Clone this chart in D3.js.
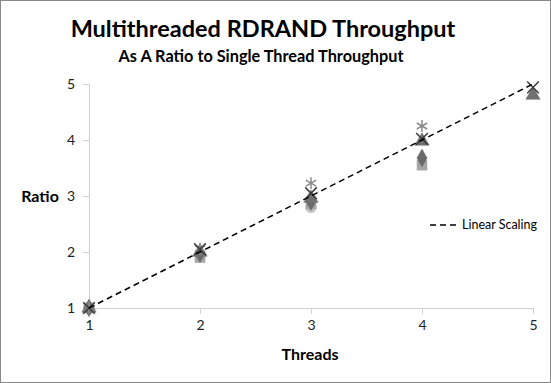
<!DOCTYPE html>
<html>
<head>
<meta charset="utf-8">
<script src="https://cdn.jsdelivr.net/npm/d3@7"></script>
<style>
  body { margin: 0; background: #fff; }
  text { font-family: Lato, "Open Sans", sans-serif; }
</style>
</head>
<body>
<div id="chart"></div>
<script>
// data
const threads = [1, 2, 3, 4, 5];
const crossVals = [1, 2.05, 3.05, 4.02, 4.94];
const starVals = [1, 2.06, 3.23, 4.25, null];
const triVals = [1, 2.0, 2.96, 3.98, 4.8];
const diamondVals = [1, 1.97, 2.9, 3.68, null];
const squareVals = [1, 1.9, 2.86, 3.55, null];
const circleVals = [1, 1.93, 2.8, null, null];
const linearVals = [1, 2, 3, 4, 5];
const yTicks = [1, 2, 3, 4, 5];

const series = [
  { name: "circle", vals: circleVals, color: "#c4c4c4", shape: "circle" },
  { name: "square", vals: squareVals, color: "#a6a6a6", shape: "square" },
  { name: "diamond", vals: diamondVals, color: "#6a6a6a", shape: "diamond" },
  { name: "triangle", vals: triVals, color: "#707070", shape: "triangle" },
  { name: "star", vals: starVals, color: "#8c8c8c", shape: "star" },
  { name: "cross", vals: crossVals, color: "#3a3a3a", shape: "cross" }
];

const width = 551, height = 383;
const svg = d3.select("#chart").append("svg")
  .attr("width", width)
  .attr("height", height);

svg.append("rect")
  .attr("x", 0.5).attr("y", 0.5)
  .attr("width", width - 1).attr("height", height - 1)
  .attr("fill", "#fff").attr("stroke", "#8a8a8a");

var x = d3.scaleLinear().domain([1, 5]).range([89, 533]);
var y = d3.scaleLinear().domain([1, 5]).range([308, 84]);

// title
svg.append("text")
  .attr("x", 263).attr("y", 37)
  .attr("text-anchor", "middle")
  .attr("font-size", 23.5).attr("font-weight", "bold")
  .text("Multithreaded RDRAND Throughput");
svg.append("text")
  .attr("x", 261).attr("y", 62)
  .attr("text-anchor", "middle")
  .attr("font-size", 16.3).attr("font-weight", "bold")
  .text("As A Ratio to Single Thread Throughput");

// axes
var xAxis = svg.append("g")
  .attr("transform", "translate(0," + y(1) + ")")
  .call(d3.axisBottom(x).tickValues(threads).tickFormat(d3.format("d")).tickSize(6).tickPadding(6));
xAxis.select(".domain").attr("stroke", "#d0d0d0");
xAxis.selectAll(".tick line").attr("stroke", "#d0d0d0");
xAxis.selectAll("text").attr("font-size", 14).attr("fill", "#222")
  .attr("font-family", "Lato, sans-serif");

var yAxis = svg.append("g")
  .attr("transform", "translate(" + x(1) + ",0)")
  .call(d3.axisLeft(y).tickValues(yTicks).tickFormat(d3.format("d")).tickSize(6).tickPadding(8));
yAxis.select(".domain").attr("stroke", "#d0d0d0");
yAxis.selectAll(".tick line").attr("stroke", "#d0d0d0");
yAxis.selectAll("text").attr("font-size", 14).attr("fill", "#222")
  .attr("font-family", "Lato, sans-serif");

svg.append("text")
  .attr("x", 310).attr("y", 360)
  .attr("text-anchor", "middle")
  .attr("font-size", 16).attr("font-weight", "bold")
  .text("Threads");
svg.append("text")
  .attr("x", 40).attr("y", 202)
  .attr("text-anchor", "middle")
  .attr("font-size", 16).attr("font-weight", "bold")
  .text("Ratio");

// markers
const symbolFor = {
  circle: d3.symbol().type(d3.symbolCircle).size(100),
  square: d3.symbol().type(d3.symbolSquare).size(100),
  diamond: d3.symbol().type(d3.symbolDiamond).size(90),
  triangle: d3.symbol().type(d3.symbolTriangle).size(90),
  star: d3.symbol().type(d3.symbolAsterisk).size(100),
  cross: d3.symbol().type(d3.symbolTimes).size(90)
};

series.forEach(function (s) {
  var pts = threads.map(function (t, i) { return { t: t, v: s.vals[i] }; })
    .filter(function (d) { return d.v != null; });
  var g = svg.append("g");
  var open = s.shape === "star" || s.shape === "cross";
  g.selectAll("path")
    .data(pts)
    .enter().append("path")
    .attr("transform", function (d) { return "translate(" + x(d.t) + "," + y(d.v) + ")"; })
    .attr("d", symbolFor[s.shape]())
    .attr("fill", open ? "none" : s.color)
    .attr("stroke", s.color)
    .attr("stroke-width", open ? 1.5 : 0.5);
});

// linear scaling line
var line = d3.line()
  .x(function (d, i) { return x(threads[i]); })
  .y(function (d) { return y(d); });
svg.append("path")
  .datum(linearVals)
  .attr("d", line)
  .attr("fill", "none")
  .attr("stroke", "#000")
  .attr("stroke-width", 1.5)
  .attr("stroke-dasharray", "6,4");

// legend
svg.append("line")
  .attr("x1", 430).attr("x2", 458)
  .attr("y1", 225).attr("y2", 225)
  .attr("stroke", "#000").attr("stroke-width", 1.5)
  .attr("stroke-dasharray", "6,4");
svg.append("text")
  .attr("x", 462).attr("y", 229)
  .attr("font-size", 12.5)
  .text("Linear Scaling");
</script>
</body>
</html>
